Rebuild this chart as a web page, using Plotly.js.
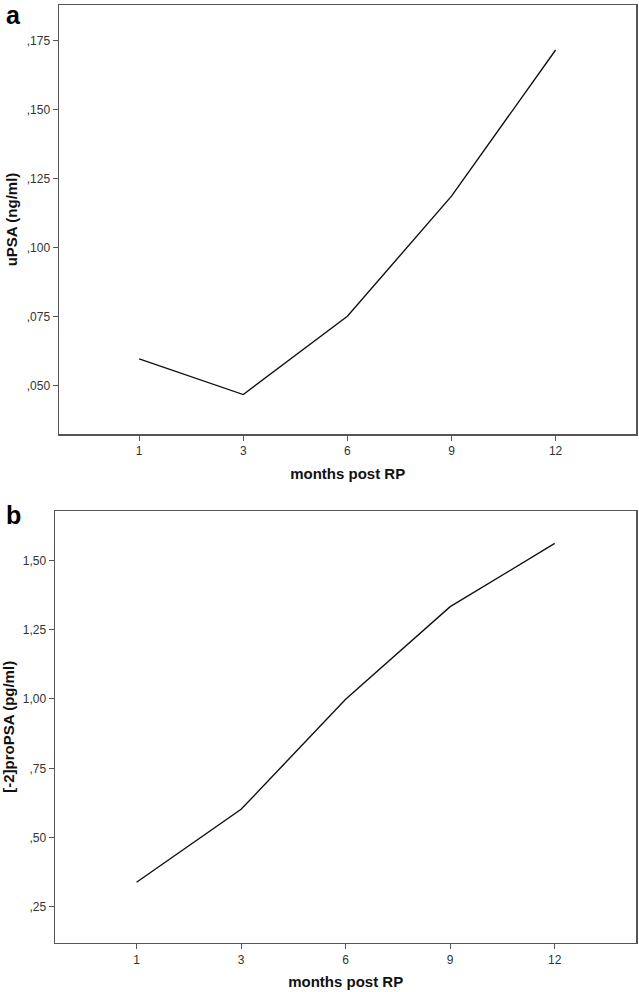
<!DOCTYPE html>
<html>
<head>
<meta charset="utf-8">
<script src="https://cdn.plot.ly/plotly-3.0.1.min.js"></script>
<style>
  html, body { margin: 0; padding: 0; background: #fff; }
  #plot { width: 639px; height: 992px; }
</style>
</head>
<body>
<div id="plot"></div>
<script>
// months after radical prostatectomy (categorical, equally spaced)
const months = ["1", "3", "6", "9", "12"]

// panel a: uPSA (ng/ml)
const upsa = [0.0596, 0.0467, 0.0751, 0.1186, 0.1716]
const upsaTicks = [0.050, 0.075, 0.100, 0.125, 0.150, 0.175]
const upsaTickText = [",050", ",075", ",100", ",125", ",150", ",175"]

// panel b: [-2]proPSA (pg/ml)
const propsa = [0.339, 0.602, 0.999, 1.333, 1.561]
const propsaTicks = [0.25, 0.50, 0.75, 1.00, 1.25, 1.50]
const propsaTickText = [",25", ",50", ",75", "1,00", "1,25", "1,50"]

const fontFam = "Liberation Sans, Arial, sans-serif"
const boxColor = "#555555"

function xAxis(domain, range, anchor) {
  return {
    domain: domain,
    anchor: anchor,
    type: "category",
    range: range,
    showline: true,
    mirror: true,
    linecolor: boxColor,
    linewidth: 1.5,
    ticks: "outside",
    ticklen: 5,
    tickwidth: 1,
    tickcolor: boxColor,
    showgrid: false,
    zeroline: false,
    automargin: false,
    tickfont: {family: fontFam, size: 12, color: "#333"},
    title: {
      text: "months post RP",
      font: {family: fontFam, size: 15, color: "#111", weight: "bold"},
      standoff: 11
    }
  }
}

function yAxis(domain, range, anchor, vals, text, label) {
  return {
    domain: domain,
    anchor: anchor,
    range: range,
    tickvals: vals,
    ticktext: text,
    showline: true,
    mirror: true,
    linecolor: boxColor,
    linewidth: 1.5,
    ticks: "outside",
    ticklen: 5,
    tickwidth: 1,
    tickcolor: boxColor,
    showgrid: false,
    zeroline: false,
    automargin: false,
    tickfont: {family: fontFam, size: 12, color: "#333"},
    title: {
      text: label,
      font: {family: fontFam, size: 15, color: "#111", weight: "bold"},
      standoff: 5
    }
  }
}

const traceA = {
  x: months,
  y: upsa,
  xaxis: "x",
  yaxis: "y",
  type: "scatter",
  mode: "lines",
  line: {color: "#111", width: 1.4},
  hoverinfo: "x+y"
}

const traceB = {
  x: months,
  y: propsa,
  xaxis: "x2",
  yaxis: "y2",
  type: "scatter",
  mode: "lines",
  line: {color: "#111", width: 1.4},
  hoverinfo: "x+y"
}

const layout = {
  width: 639,
  height: 992,
  margin: {l: 0, r: 0, t: 0, b: 0},
  paper_bgcolor: "#fff",
  plot_bgcolor: "#fff",
  showlegend: false,
  xaxis: xAxis([59/639, 636.3/639], [-0.77, 4.775], "y"),
  yaxis: yAxis([1 - 434/992, 1 - 5/992], [0.0324, 0.1879], "x",
               upsaTicks, upsaTickText, "uPSA (ng/ml)"),
  xaxis2: xAxis([55/639, 636.3/639], [-0.78, 4.78], "y2"),
  yaxis2: yAxis([1 - 942.7/992, 1 - 511/992], [0.121, 1.678], "x2",
                propsaTicks, propsaTickText, "[-2]proPSA (pg/ml)"),
  annotations: [
    {text: "<b>a</b>", xref: "paper", yref: "paper", x: 5/639, y: 1,
     xanchor: "left", yanchor: "top", showarrow: false, borderpad: 0,
     font: {family: fontFam, size: 25, color: "#000"}},
    {text: "<b>b</b>", xref: "paper", yref: "paper", x: 5/639, y: 1 - 500/992,
     xanchor: "left", yanchor: "top", showarrow: false, borderpad: 0,
     font: {family: fontFam, size: 25, color: "#000"}}
  ]
}

Plotly.newPlot("plot", [traceA, traceB], layout, {displayModeBar: false, staticPlot: true})
</script>
</body>
</html>
